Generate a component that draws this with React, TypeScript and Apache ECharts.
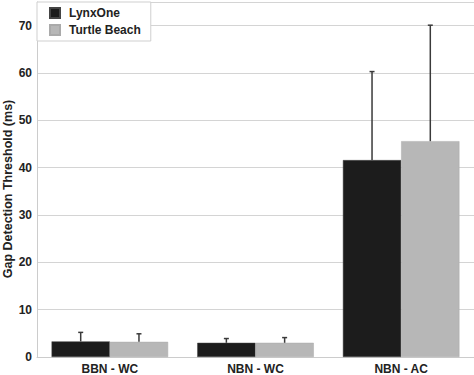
import React, { useEffect, useRef } from "react";
import * as echarts from "echarts";

const categories = ["BBN - WC", "NBN - WC", "NBN - AC"];
const seriesNames = ["LynxOne", "Turtle Beach"];
const lynxValues = [3.3, 3.0, 41.6];
const lynxErrors = [1.9, 0.9, 18.7];
const turtleValues = [3.2, 3.0, 45.6];
const turtleErrors = [1.7, 1.1, 24.5];
const yTicks = [0, 10, 20, 30, 40, 50, 60, 70];
const yTitle = "Gap Detection Threshold (ms)";

const colors = ["#1c1c1c", "#b7b7b7"];

function errorSeries(values: number[], errors: number[], offsetFrac: number) {
  return {
    type: "custom",
    silent: true,
    z: 5,
    data: values.map((v, i) => [i, v, v + errors[i]]),
    renderItem: (params: any, api: any) => {
      const band = api.size([1, 0])[0];
      const c = api.value(0);
      const base = api.coord([c, api.value(1)]);
      const top = api.coord([c, api.value(2)]);
      const x = base[0] + band * offsetFrac;
      const style = { stroke: "#3a3a3a", lineWidth: 1.5 };
      return {
        type: "group",
        children: [
          { type: "line", shape: { x1: x, y1: base[1], x2: x, y2: top[1] }, style },
          { type: "line", shape: { x1: x - 2.5, y1: top[1], x2: x + 2.5, y2: top[1] }, style },
        ],
      };
    },
  };
}

export default function App() {
  const ref = useRef<HTMLDivElement>(null);
  useEffect(() => {
    if (!ref.current) return;
    const chart = echarts.init(ref.current, null, { renderer: "svg" });
    chart.setOption({
      animation: false,
      backgroundColor: "#ffffff",
      textStyle: { fontFamily: "Liberation Sans, Arial, sans-serif" },
      grid: { left: 37, right: 0, top: 2, bottom: 18, outerBoundsMode: "none", containLabel: false },
      graphic: [
        {
          type: "text",
          x: 8,
          y: 189,
          rotation: Math.PI / 2,
          style: {
            text: yTitle,
            fontSize: 12.5,
            fontWeight: "bold",
            fontFamily: "Liberation Sans, Arial, sans-serif",
            fill: "#222",
            align: "center",
            verticalAlign: "middle",
          },
        },
      ],
      legend: {
        data: seriesNames,
        orient: "vertical",
        left: 37,
        top: 2,
        icon: "rect",
        itemWidth: 10,
        itemHeight: 10,
        itemGap: 5,
        padding: [5, 10, 5, 12],
        backgroundColor: "#ffffff",
        borderColor: "#cfcfcf",
        borderWidth: 1,
        textStyle: { fontSize: 12, fontWeight: "bold", color: "#222", padding: [0, 0, 0, 4] },
      },
      xAxis: {
        type: "category",
        data: categories,
        axisLine: { lineStyle: { color: "#cccccc" } },
        axisTick: { show: false },
        axisLabel: { fontSize: 12, fontWeight: "bold", color: "#222", margin: 6 },
      },
      yAxis: {
        type: "value",
        min: 0,
        max: 75,
        interval: 10,
        axisLine: { show: true, lineStyle: { color: "#cccccc" } },
        axisTick: { show: false },
        axisLabel: {
          fontSize: 12,
          fontWeight: "bold",
          color: "#222",
          margin: 5,
          formatter: (v: number) => (yTicks.includes(v) ? String(v) : ""),
        },
        splitLine: { lineStyle: { color: "#d4d4d4", width: 1 } },
      },
      series: [
        {
          name: seriesNames[0],
          type: "bar",
          data: lynxValues,
          barGap: "0%",
          barCategoryGap: "20%",
          itemStyle: { color: colors[0], borderColor: "#444", borderWidth: 0.5 },
        },
        {
          name: seriesNames[1],
          type: "bar",
          data: turtleValues,
          barGap: "0%",
          barCategoryGap: "20%",
          itemStyle: { color: colors[1], borderColor: "#aaa", borderWidth: 0.5 },
        },
        errorSeries(lynxValues, lynxErrors, -0.2),
        errorSeries(turtleValues, turtleErrors, 0.2),
      ],
    });
    return () => chart.dispose();
  }, []);
  return <div ref={ref} style={{ width: 474, height: 375, position: "absolute", left: 0, top: 0 }} />;
}
